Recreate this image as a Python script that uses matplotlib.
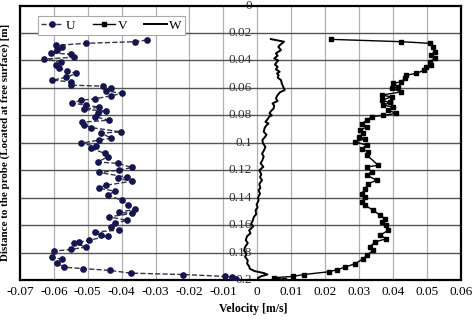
import matplotlib
matplotlib.use("Agg")
import matplotlib.pyplot as plt

plt.rcParams['font.family'] = ['Liberation Serif', 'DejaVu Serif']

# U velocity profile (dashed, circles)
u_depth = [0.0251, 0.0263, 0.0275, 0.0290, 0.0300, 0.0324, 0.0346, 0.0354, 0.0376, 0.0390,
           0.0410, 0.0434, 0.0457, 0.0477, 0.0494, 0.0523, 0.0543, 0.0556, 0.0580, 0.0587,
           0.0603, 0.0620, 0.0640, 0.0657, 0.0680, 0.0690, 0.0710, 0.0726, 0.0740, 0.0757,
           0.0768, 0.0785, 0.0810, 0.0835, 0.0850, 0.0870, 0.0889, 0.0920, 0.0930, 0.0967,
           0.0980, 0.1004, 0.1024, 0.1040, 0.1077, 0.1100, 0.1140, 0.1150, 0.1180, 0.1200,
           0.1216, 0.1250, 0.1260, 0.1280, 0.1310, 0.1330, 0.1353, 0.1380, 0.1420, 0.1450,
           0.1485, 0.1506, 0.1515, 0.1540, 0.1565, 0.1586, 0.1616, 0.1637, 0.1650, 0.1674,
           0.1680, 0.1710, 0.1725, 0.1730, 0.1760, 0.1777, 0.1790, 0.1834, 0.1850, 0.1877,
           0.1907, 0.1917, 0.1930, 0.1950, 0.1960, 0.1974, 0.1980, 0.1996]
u_vel = [-0.0326, -0.0360, -0.0506, -0.0593, -0.0575, -0.0590, -0.0607, -0.0550, -0.0540, -0.0630,
         -0.0578, -0.0593, -0.0584, -0.0560, -0.0534, -0.0563, -0.0604, -0.0550, -0.0550, -0.0455,
         -0.0430, -0.0447, -0.0400, -0.0430, -0.0480, -0.0520, -0.0545, -0.0505, -0.0467, -0.0510,
         -0.0447, -0.0470, -0.0480, -0.0437, -0.0517, -0.0510, -0.0490, -0.0403, -0.0460, -0.0430,
         -0.0467, -0.0520, -0.0476, -0.0490, -0.0450, -0.0440, -0.0470, -0.0410, -0.0370, -0.0408,
         -0.0467, -0.0385, -0.0410, -0.0370, -0.0447, -0.0467, -0.0420, -0.0440, -0.0400, -0.0380,
         -0.0360, -0.0408, -0.0370, -0.0437, -0.0385, -0.0420, -0.0430, -0.0408, -0.0480, -0.0460,
         -0.0440, -0.0496, -0.0525, -0.0540, -0.0505, -0.0550, -0.0600, -0.0604, -0.0575, -0.0590,
         -0.0569, -0.0513, -0.0435, -0.0373, -0.0218, -0.0095, -0.0075, -0.0063]

# V velocity profile (solid, small squares)
v_depth = [0.0246, 0.0263, 0.0275, 0.0300, 0.0336, 0.0360, 0.0385, 0.0410, 0.0434, 0.0446,
           0.0470, 0.0494, 0.0507, 0.0530, 0.0555, 0.0567, 0.0590, 0.0604, 0.0628, 0.0653,
           0.0665, 0.0690, 0.0706, 0.0726, 0.0738, 0.0762, 0.0786, 0.0800, 0.0810, 0.0835,
           0.0860, 0.0884, 0.0908, 0.0932, 0.0957, 0.0970, 0.0993, 0.1018, 0.1042, 0.1066,
           0.1090, 0.1164, 0.1176, 0.1212, 0.1236, 0.1273, 0.1297, 0.1334, 0.1370, 0.1395,
           0.1431, 0.1455, 0.1492, 0.1528, 0.1553, 0.1577, 0.1600, 0.1638, 0.1674, 0.1699,
           0.1723, 0.1760, 0.1784, 0.1820, 0.1845, 0.1880, 0.1906, 0.1925, 0.1940, 0.1960,
           0.1974, 0.1983, 0.1998]
v_vel = [0.0216, 0.0425, 0.0508, 0.0518, 0.0523, 0.0513, 0.0523, 0.0508, 0.0513, 0.0498,
         0.0493, 0.0469, 0.0440, 0.0435, 0.0425, 0.0400, 0.0415, 0.0396, 0.0425, 0.0367,
         0.0396, 0.0367, 0.0391, 0.0372, 0.0400, 0.0386, 0.0410, 0.0372, 0.0337, 0.0323,
         0.0308, 0.0323, 0.0303, 0.0313, 0.0299, 0.0318, 0.0289, 0.0323, 0.0308, 0.0328,
         0.0323, 0.0357, 0.0323, 0.0337, 0.0323, 0.0352, 0.0328, 0.0318, 0.0308, 0.0318,
         0.0308, 0.0318, 0.0342, 0.0362, 0.0376, 0.0367, 0.0381, 0.0386, 0.0362, 0.0381,
         0.0347, 0.0332, 0.0342, 0.0323, 0.0313, 0.0289, 0.0260, 0.0235, 0.0211, 0.0138,
         0.0104, 0.0050, 0.0079]

# W velocity profile (solid line)
w_depth = [0.0244, 0.0263, 0.0285, 0.0300, 0.0324, 0.0348, 0.0365, 0.0385, 0.0400, 0.0410,
           0.0430, 0.0446, 0.0465, 0.0482, 0.0495, 0.0507, 0.0525, 0.0543, 0.0565, 0.0590,
           0.0616, 0.0630, 0.0640, 0.0660, 0.0677, 0.0695, 0.0713, 0.0730, 0.0750, 0.0770,
           0.0786, 0.0800, 0.0810, 0.0830, 0.0847, 0.0860, 0.0870, 0.0890, 0.0920, 0.0940,
           0.0957, 0.0980, 0.1005, 0.1030, 0.1054, 0.1080, 0.1100, 0.1127, 0.1150, 0.1175,
           0.1200, 0.1230, 0.1250, 0.1273, 0.1300, 0.1330, 0.1346, 0.1370, 0.1400, 0.1420,
           0.1450, 0.1470, 0.1492, 0.1520, 0.1540, 0.1565, 0.1590, 0.1610, 0.1638, 0.1660,
           0.1680, 0.1710, 0.1730, 0.1760, 0.1784, 0.1810, 0.1830, 0.1857, 0.1880, 0.1900,
           0.1918, 0.1935, 0.1950, 0.1960, 0.1972, 0.1985, 0.2000]
w_vel = [0.0040, 0.0079, 0.0068, 0.0062, 0.0070, 0.0055, 0.0060, 0.0050, 0.0062, 0.0058,
         0.0052, 0.0060, 0.0055, 0.0066, 0.0058, 0.0063, 0.0060, 0.0070, 0.0072, 0.0076,
         0.0081, 0.0068, 0.0064, 0.0058, 0.0055, 0.0060, 0.0045, 0.0050, 0.0048, 0.0040,
         0.0036, 0.0043, 0.0035, 0.0030, 0.0024, 0.0033, 0.0028, 0.0022, 0.0019, 0.0027,
         0.0023, 0.0015, 0.0017, 0.0024, 0.0020, 0.0014, 0.0019, 0.0015, 0.0010, 0.0018,
         0.0006, 0.0012, 0.0008, 0.0014, 0.0006, 0.0009, 0.0004, 0.0008, 0.0002, 0.0004,
         -0.0002, 0.0001, -0.0005, -0.0003, -0.0010, -0.0013, -0.0018, -0.0012, -0.0024, -0.0020,
         -0.0030, -0.0034, -0.0028, -0.0036, -0.0039, -0.0032, -0.0036, -0.0028, -0.0030, -0.0024,
         -0.0022, -0.0008, 0.0020, 0.0030, 0.0012, 0.0002, 0.0004]

x_ticks = [-0.07, -0.06, -0.05, -0.04, -0.03, -0.02, -0.01, 0, 0.01, 0.02, 0.03, 0.04, 0.05, 0.06]
y_ticks = [0, 0.02, 0.04, 0.06, 0.08, 0.1, 0.12, 0.14, 0.16, 0.18, 0.2]

fig = plt.figure(figsize=(4.74, 3.2), dpi=100)
ax = fig.add_axes([0.042, 0.125, 0.93, 0.8575])

ax.plot(u_vel, u_depth, '--', color='#33334d', lw=1.0, marker='o', ms=3.8,
        mfc='#141450', mec='#141450', label='U', zorder=4)
ax.plot(v_vel, v_depth, '-', color='black', lw=1.0, marker='s', ms=2.2,
        mfc='black', mec='black', label='V', zorder=3)
ax.plot(w_vel, w_depth, '-', color='black', lw=1.4, label='W', zorder=3)

ax.set_xlim(-0.07, 0.06)
ax.set_ylim(0.2, 0)
ax.set_xticks(x_ticks)
ax.set_xticklabels(['%g' % t for t in x_ticks], fontsize=9.5)
ax.set_yticks(y_ticks)
ax.set_yticklabels([])
ax.tick_params(axis='both', length=0, pad=4)

for t in x_ticks:
    ax.axvline(t, color='#b0b0b0', lw=0.9, zorder=1)
for t in y_ticks[1:-1]:
    ax.axhline(t, color='#555555', lw=1.0, zorder=1)

# y tick labels sit next to the x = 0 line
for t in y_ticks:
    ax.text(-0.0015, t, '%g' % t, ha='right', va='center', fontsize=9.5,
            color='#333333', zorder=2)

for s in ax.spines.values():
    s.set_linewidth(1.6)
    s.set_color('black')

ax.set_xlabel('Velocity [m/s]', fontsize=8.5, fontweight='bold', labelpad=1)
ax.xaxis.set_label_coords(0.53, -0.085)
ax.set_ylabel('Distance to the probe (Located at free surface) [m]', fontsize=7.9,
              fontweight='bold', labelpad=3)

leg = ax.legend(loc='upper left', bbox_to_anchor=(0.025, 0.985), ncol=3, fontsize=9.5,
                frameon=True, fancybox=False, edgecolor='#aaaaaa', framealpha=1,
                handlelength=1.7, columnspacing=1.3, borderpad=0.25, handletextpad=0.2)
leg.get_frame().set_linewidth(0.8)

fig.savefig('out.png', dpi=100)
